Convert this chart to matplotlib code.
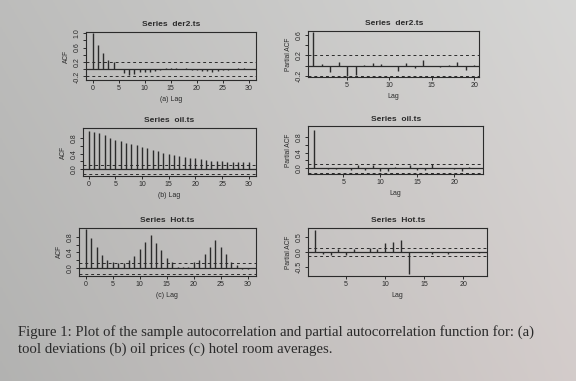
import matplotlib.pyplot as plt
import numpy as np

# ACF / PACF values
acf_der2 = [1.0, 0.67, 0.45, 0.25, 0.2, 0.0, -0.1, -0.15, -0.12, -0.08, -0.07,
            -0.08, -0.05, -0.03, 0.03, 0.03, 0.02, 0.0, 0.03, -0.02, -0.02,
            -0.05, -0.06, -0.08, -0.04, -0.03, -0.01, 0.0, 0.04, 0.03, 0.0]
pacf_der2 = [0.65, 0.03, -0.12, 0.08, -0.2, -0.18, 0.02, 0.05, 0.03, 0.0,
             -0.1, 0.05, -0.05, 0.12, 0.0, -0.03, 0.02, 0.07, -0.08, 0.02]
acf_oil = [1.0, 0.97, 0.93, 0.88, 0.82, 0.77, 0.73, 0.69, 0.65, 0.62, 0.58,
           0.54, 0.5, 0.46, 0.43, 0.4, 0.37, 0.34, 0.32, 0.3, 0.28, 0.26,
           0.24, 0.22, 0.21, 0.2, 0.19, 0.19, 0.18, 0.18, 0.18]
pacf_oil = [0.97, 0.0, -0.02, -0.03, 0.0, -0.05, 0.08, -0.05, 0.08, -0.06,
            -0.07, 0.02, 0.01, 0.08, -0.05, -0.04, 0.1, 0.01, 0.0, -0.03,
            -0.07, 0.02, 0.0]
acf_hot = [1.0, 0.78, 0.55, 0.33, 0.2, 0.15, 0.14, 0.13, 0.2, 0.3, 0.5, 0.67,
           0.85, 0.65, 0.45, 0.25, 0.15, 0.03, 0.02, 0.03, 0.15, 0.2, 0.37,
           0.54, 0.71, 0.54, 0.36, 0.15, 0.08, -0.02, -0.03]
pacf_hot = [0.76, -0.05, -0.1, 0.1, -0.1, 0.1, 0.0, 0.15, 0.1, 0.3, 0.35,
            0.42, -0.75, 0.0, 0.0, -0.05, 0.0, -0.05, 0.0, 0.0, 0.0, -0.03]

titles = ["Series  der2.ts", "Series  oil.ts", "Series  Hot.ts"]
acf_xlabels = ["(a) Lag", "(b) Lag", "(c) Lag"]
conf = [0.2, 0.12, 0.14]

ink = "#2b2b2b"
plt.rcParams["font.family"] = ["Liberation Sans", "DejaVu Sans"]

fig = plt.figure(figsize=(5.76, 3.81), dpi=100)

# photo-like page background
bg = fig.add_axes([0, 0, 1, 1], zorder=-10)
gx, gy = np.meshgrid(np.linspace(0, 1, 200), np.linspace(0, 1, 130))
shade = 0.74 + 0.10 * gx - 0.04 * gy
rgb = np.dstack([shade + 0.03 * gx * gy, shade, shade - 0.005])
bg.imshow(np.clip(rgb, 0, 1), aspect="auto", extent=[0, 1, 0, 1])
bg.axis("off")

def corr_panel(rect, vals, start, ci, xlim, ylim, yticks, ylabels, xticks,
               title, xlabel, ylabel):
    ax = fig.add_axes(rect)
    ax.set_facecolor("none")
    lags = np.arange(start, start + len(vals))
    ax.vlines(lags, 0, vals, color=ink, lw=1.0)
    ax.axhline(0, color=ink, lw=0.9)
    ax.axhline(ci, color=ink, lw=0.7, ls=(0, (3, 3)))
    ax.axhline(-ci, color=ink, lw=0.7, ls=(0, (3, 3)))
    ax.set_xlim(*xlim)
    ax.set_ylim(*ylim)
    ax.set_xticks(xticks)
    ax.set_xticklabels([str(t) for t in xticks])
    ax.set_yticks(yticks)
    ax.set_yticklabels(ylabels, rotation=90, va="center")
    ax.tick_params(labelsize=5.0, length=2.2, width=0.7, pad=1.5, colors=ink)
    for s in ax.spines.values():
        s.set_linewidth(0.8)
        s.set_color(ink)
    ax.set_title(title, fontsize=6.0, fontweight="bold", pad=4, color=ink)
    ax.set_xlabel(xlabel, fontsize=5.0, labelpad=3, color=ink)
    ax.set_ylabel(ylabel, fontsize=4.8, labelpad=3, color=ink)
    return ax

acf_x = [0, 5, 10, 15, 20, 25, 30]
pacf_x = [5, 10, 15, 20]

# (a) der2
corr_panel([0.149, 0.790, 0.295, 0.126], acf_der2, 0, conf[0], (-1.35, 31.35),
           (-0.3, 1.03), [-0.2, 0.0, 0.2, 0.4, 0.6, 0.8, 1.0],
           ["-0.2", "", "0.2", "", "0.6", "", "1.0"], acf_x,
           titles[0], acf_xlabels[0], "ACF")
corr_panel([0.535, 0.798, 0.297, 0.121], pacf_der2, 1, conf[0], (0.4, 20.6),
           (-0.22, 0.68), [-0.2, 0.0, 0.2, 0.4, 0.6],
           ["-0.2", "", "0.2", "", "0.6"], pacf_x,
           titles[0], "Lag", "Partial ACF")

# (b) oil
corr_panel([0.144, 0.538, 0.300, 0.126], acf_oil, 0, conf[1], (-1.1, 31.3),
           (-0.18, 1.07), [0.0, 0.2, 0.4, 0.6, 0.8],
           ["0.0", "", "0.4", "", "0.8"], acf_x,
           titles[1], acf_xlabels[1], "ACF")
corr_panel([0.535, 0.543, 0.304, 0.126], pacf_oil, 1, conf[1], (0.27, 23.9),
           (-0.15, 1.08), [0.0, 0.2, 0.4, 0.6, 0.8],
           ["0.0", "", "0.4", "", "0.8"], pacf_x,
           titles[1], "Lag", "Partial ACF")

# (c) hotel
corr_panel([0.137, 0.276, 0.307, 0.126], acf_hot, 0, conf[2], (-1.3, 31.5),
           (-0.2, 1.03), [0.0, 0.2, 0.4, 0.6, 0.8],
           ["0.0", "", "0.4", "", "0.8"], acf_x,
           titles[2], acf_xlabels[2], "ACF")
corr_panel([0.535, 0.276, 0.311, 0.126], pacf_hot, 1, conf[2], (0.13, 23.1),
           (-0.8, 0.82), [-0.5, 0.0, 0.5],
           ["-0.5", "0.0", "0.5"], pacf_x,
           titles[2], "Lag", "Partial ACF")

caption = ("Figure 1: Plot of the sample autocorrelation and partial autocorrelation function for: (a)\n"
           "tool deviations (b) oil prices (c) hotel room averages.")
fig.text(0.031, 1 - 325 / 381, caption, fontsize=10.6, family=["Liberation Serif", "DejaVu Serif"],
         color="#2a2a2a", va="top", ha="left", linespacing=1.3)

plt.savefig("out.png", dpi=100)
